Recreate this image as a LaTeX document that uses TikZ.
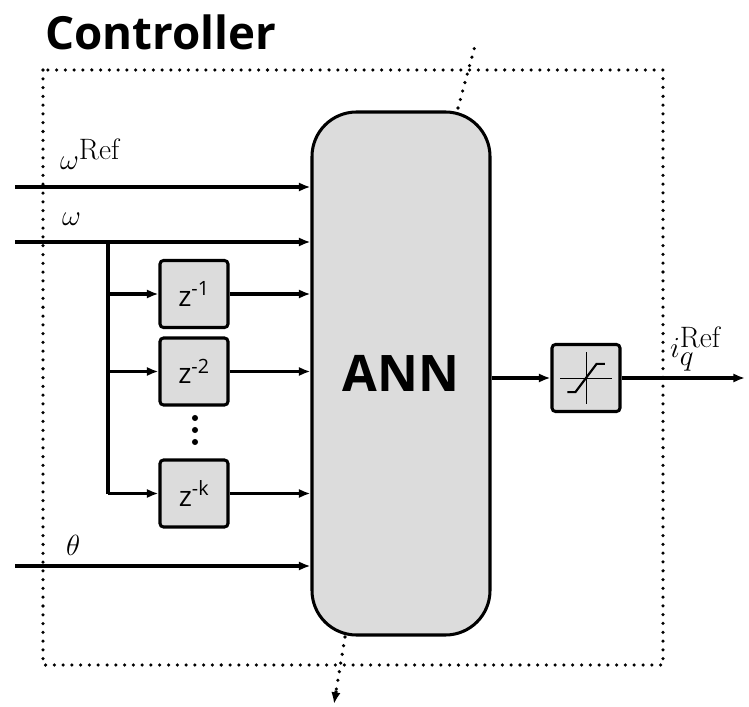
\documentclass[tikz,border=0pt]{standalone}
\usepackage{fontspec}
\newfontfamily\sansfont{Open Sans}
\usetikzlibrary{arrows.meta,calc}
\definecolor{blockgray}{RGB}{220,220,220}
\tikzset{
  sig/.style={line width=2.6pt,-{Latex[length=10pt,width=8pt]}},
  dots/.style={line width=3pt,line cap=round,dash pattern=on 0pt off 7.5pt},
  delay/.style={draw,line width=2.6pt,fill=blockgray,rounded corners=3pt,minimum width=68*0.03cm,minimum height=67*0.03cm,inner sep=0pt,font=\sansfont\fontsize{24}{24}\selectfont},
  lbl/.style={font=\fontsize{36}{36}\selectfont,anchor=base west}
}
\begin{document}
\begin{tikzpicture}[x=0.03cm,y=-0.03cm]
  \useasboundingbox (0,0) rectangle (749,707);

  % frame and title
  \draw[dots] (43,70) rectangle (663,665);
  \node[anchor=base west,font=\sansfont\bfseries\fontsize{39}{39}\selectfont,inner sep=0pt] (title) at (45,50) {Controller};

  % ANN block
  \node[draw,line width=2.6pt,fill=blockgray,rounded corners=38pt,minimum width=178*0.03cm,minimum height=523*0.03cm,font=\sansfont\bfseries\fontsize{43}{43}\selectfont] (ann) at (401,373.5) {ANN};

  % delay blocks
  \node[delay] (d1) at (194,294) {z\textsuperscript{-1}};
  \node[delay] (d2) at (194,371.5) {z\textsuperscript{-2}};
  \node[delay] (dk) at (194,493.5) {z\textsuperscript{-k}};
  \foreach \y in {418,430,442}
    \fill (195,\y) circle (2.6pt);

  % saturation block
  \node[delay] (sat) at (586,378) {};
  \draw[line width=0.8pt] ([xshift=-22pt]sat.center) -- ([xshift=22pt]sat.center);
  \draw[line width=0.8pt] ([yshift=-22pt]sat.center) -- ([yshift=22pt]sat.center);
  \draw[line width=1.8pt] ([shift={(-16pt,-12pt)}]sat.center) -- ([shift={(-9pt,-12pt)}]sat.center)
    -- ([shift={(9pt,12pt)}]sat.center) -- ([shift={(16pt,12pt)}]sat.center);

  % inputs
  \coordinate (wr) at (15,187);
  \coordinate (w) at (15,242);
  \coordinate (th) at (15,566);
  \coordinate (br) at (108,242);
  \draw[sig] (wr) -- (wr -| ann.west);
  \draw[sig] (w) -- (w -| ann.west);
  \draw[sig] (th) -- (th -| ann.west);
  \draw[line width=2.6pt] (br) -- (br |- dk);
  \foreach \d in {d1,d2,dk}{
    \draw[sig] (br |- \d) -- (\d.west);
    \draw[sig] (\d.east) -- (\d.east -| ann.west);
  }
  \node[lbl] (lwr) at (56,170) {$\omega^{\mathrm{\fontsize{20}{20}\selectfont Ref}}$};
  \node[lbl] (lw) at (58,226) {$\omega$};
  \node[lbl] (lth) at (62,555) {$\theta$};

  % output
  \coordinate (out) at (745,378);
  \draw[sig] (ann.east |- sat) -- (sat.west);
  \draw[sig] (sat.east) -- (out);
  \node[lbl] (liq) at (666,358) {$i_q^{\mathrm{\fontsize{20}{20}\selectfont Ref}}$};

  % dotted cross lines
  \coordinate (top) at (476,42);
  \coordinate (tb) at (458,108);
  \coordinate (bt) at (345,637);
  \coordinate (bot) at (334,704);
  \coordinate (mid) at ($(bt)!0.8!(bot)$);
  \draw[dots] (tb) -- (top);
  \draw[dots] (bt) -- (mid);
  \draw[line width=2.6pt,-{Latex[length=10pt,width=8pt]}] (mid) -- (bot);
\end{tikzpicture}
\end{document}
